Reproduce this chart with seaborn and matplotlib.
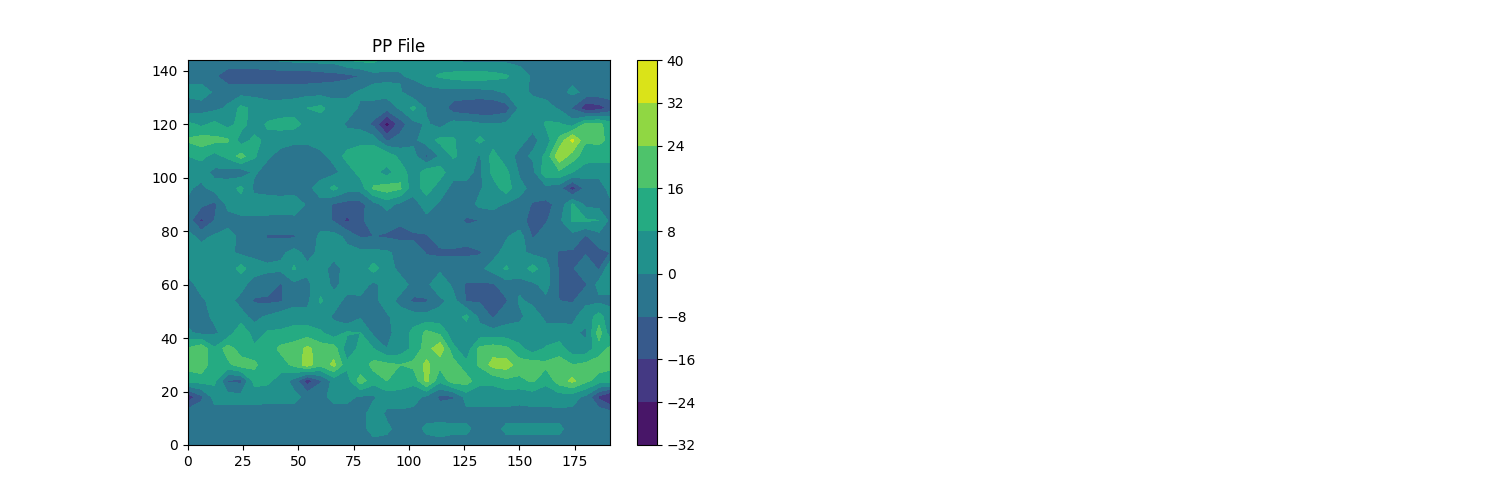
import numpy as np
import seaborn as sns
import matplotlib
matplotlib.use("Agg")
import matplotlib.pyplot as plt

x_vals = [0, 6, 12, 18, 24, 30, 36, 42, 48, 54, 60, 66, 72, 78, 84, 90, 96,
          102, 108, 114, 120, 126, 132, 138, 144, 150, 156, 162, 168, 174, 180, 186, 191]
y_vals = [144, 138, 132, 126, 120, 114, 108, 102, 96, 90, 84, 78, 72,
          66, 60, 54, 48, 42, 36, 30, 24, 18, 12, 6, 0]
contour_levels = [-32, -24, -16, -8, 0, 8, 16, 24, 32, 40]

# values, top row first
field_rows = [
    [-2, -2, -2, -2, -2, -2, -1, 1, 2, 2, 3, 3, 8, 10, 10, 5, 3, 3, 3, 3, -1, -2, -2, -2, -2, -2, -2, -2, -2, -2, -2, -2, -2],
    [-3, -3, -7, -13, -13, -13, -13, -13, -13, -13, -12, -11, -10, -8, -3, -2, -1, 2, 5, 9, 11, 12, 12, 11, 9, 3, -1, -3, -3, -3, -3, -3, -3],
    [3, 3, -1, -3, -3, -3, -3, -3, -3, -3, -3, -3, -2, 1, 3, 3, 1, -7, -3, -3, -3, -3, -3, -2, 1, 2, -1, -3, -3, 2, -2, -3, -3],
    [-6, -3, -2, 1, 10, 6, 3, 3, 4, 8, 10, 4, 3, -1, -3, -5, 1, 10, -1, -3, -12, -14, -15, -15, -12, 1, 3, 3, -1, -9, -22, -20, -14],
    [10, 6, 10, 5, 11, 4, 9, 11, 11, 5, 3, 3, -1, -4, -10, -28, -12, -3, 1, -3, 3, 3, 1, 1, 1, 1, 2, 9, 9, 4, 18, 18, 12],
    [17, 20, 18, 17, 4, 10, 6, 3, 1, 1, 3, 3, 3, 7, 4, -9, -5, -2, 4, 10, 9, 3, 10, 4, 2, 2, -2, 3, 18, 34, 17, 18, 14],
    [8, 10, 5, 10, 19, 9, 1, -3, -3, -3, -2, 2, 11, 10, 16, 14, 5, 3, -10, 1, 9, 5, -1, 11, 3, -2, 1, 10, 30, 20, 11, 11, 11],
    [2, 3, -2, -3, -5, 1, -3, -3, -3, -3, -3, -2, 3, 11, 11, 4, 14, 2, 13, 12, 2, 2, -2, 10, 10, -1, -3, 14, 14, 8, 4, 3, 3],
    [1, -2, 3, 4, 10, -2, -3, -3, -3, -2, 3, 10, 3, 3, 17, 20, 17, 3, 12, 3, -2, -2, -1, 4, 12, 2, -2, -3, -5, -20, -6, -5, 3],
    [-1, -6, -10, 2, 4, 4, 4, 3, 4, -1, -2, -9, -11, -11, -3, 3, -2, -3, 3, -1, -1, -4, 2, 3, -1, -2, -9, -10, -6, 9, -2, -3, -2],
    [-4, -18, -8, -3, -2, -2, -2, -2, -2, -1, -2, -9, -18, -10, -3, -5, -7, -2, -2, -3, -5, -9, -8, -6, -2, -6, -10, -9, -2, 9, 9, 8, -2],
    [2, -2, 1, 3, -2, -2, -9, -9, -9, -3, 1, 3, -2, -9, -8, -9, -10, -10, -9, -3, -2, -5, -2, -2, -1, 4, -9, -4, -2, -3, -9, -3, -2],
    [1, 3, 3, 2, -2, -2, -2, -2, 3, -3, 2, 2, 2, 2, 2, 1, -2, -2, -9, -10, -10, -10, -9, -3, 3, 2, -2, -2, -9, -9, -9, -10, -8],
    [2, 5, 4, 3, 11, 3, 1, 2, 9, 2, 2, -2, 2, 3, 11, 3, -2, -2, -2, -2, -2, -2, -2, 3, 9, 3, 11, 3, -9, -9, -2, -9, 6],
    [-2, 2, 6, 2, 2, -3, -3, -9, -2, -2, 5, -2, 3, 4, -2, 3, 3, -2, -2, 6, -2, -9, -9, -9, -4, -2, -2, 3, -9, -9, -9, 3, 3],
    [-2, -1, 2, 2, -2, -9, -10, -9, -2, -2, 9, 3, -2, -2, -2, 3, -2, -10, -9, -2, 3, -9, -9, -9, -9, 1, -2, -2, -8, -9, -2, -2, -2],
    [-2, -2, 1, 4, 2, -2, 1, 4, 3, 3, 3, -1, -8, -1, -2, -1, 3, 4, 3, 3, 3, 10, -2, -9, -3, -2, 4, -2, -2, -2, 4, 11, 3],
    [1, -2, -1, 2, 16, 3, 9, 9, 12, 12, 9, 3, 9, 8, -2, -2, 3, 10, 18, 14, 3, 3, 3, 3, 3, 4, 3, 3, 3, 2, -2, 20, 3],
    [17, 22, 9, 20, 12, 10, 11, 18, 19, 26, 20, 20, 3, 10, 8, 0, 3, 10, 20, 30, 10, 3, 18, 20, 18, 10, 4, 9, 12, 3, 3, 12, 18],
    [19, 22, 10, 14, 20, 18, 10, 12, 18, 28, 18, 26, 10, 10, 19, 18, 16, 18, 26, 18, 20, 10, 17, 27, 28, 20, 20, 18, 20, 16, 18, 20, 18],
    [11, 11, 10, -9, -10, 11, 10, 4, -3, -21, -9, 3, 4, 20, 11, 16, 14, 10, 26, 10, 20, 20, 10, 10, 14, 14, 17, 10, 20, 26, 18, 12, 12],
    [-22, -10, 3, 3, 3, 3, 2, 2, 2, -2, -2, 2, 2, -1, -1, 3, 3, 3, -2, -10, -9, 3, 3, 3, 3, 2, 3, 3, 4, 3, -2, -18, -26],
    [-3, -3, -3, -3, -3, -3, -3, -3, -3, -3, -3, -3, -3, -3, 3, -1, -1, -2, -2, -3, -2, -2, -2, -2, -2, -2, -2, -2, -2, -2, -2, -3, -5],
    [-2, -2, -2, -2, -2, -2, -2, -2, -2, -2, -2, -2, -2, -2, 2, 1, -2, -2, 1, 2, 1, 1, -2, -2, 1, 1, 1, 1, 1, -2, -2, -2, -2],
    [-2, -2, -2, -2, -2, -2, -2, -2, -2, -2, -2, -2, -2, -2, -2, -2, -2, -2, -2, -2, -2, -2, -2, -2, -2, -2, -2, -2, -2, -2, -2, -2, -2],
]

sns.set_style("ticks", rc={"axes.edgecolor": "black", "text.color": "black",
                           "xtick.color": "black", "ytick.color": "black",
                           "axes.labelcolor": "black"})
plt.rcParams["font.family"] = ["DejaVu Sans"]

fig = plt.figure(figsize=(15, 5), dpi=100)
ax = fig.add_axes([188 / 1500, 55 / 500, 422 / 1500, 385 / 500])
cax = fig.add_axes([637 / 1500, 55 / 500, 20 / 1500, 385 / 500])

cmap = sns.color_palette("viridis", as_cmap=True)
cs = ax.contourf(x_vals, y_vals, np.array(field_rows), levels=contour_levels, cmap=cmap)
ax.set_xlim(0, 191)
ax.set_ylim(0, 144)
ax.set_title("PP File", fontsize=12)
ax.tick_params(labelsize=10)
fig.colorbar(cs, cax=cax)
cax.tick_params(labelsize=10)

fig.savefig("out.png", dpi=100)
